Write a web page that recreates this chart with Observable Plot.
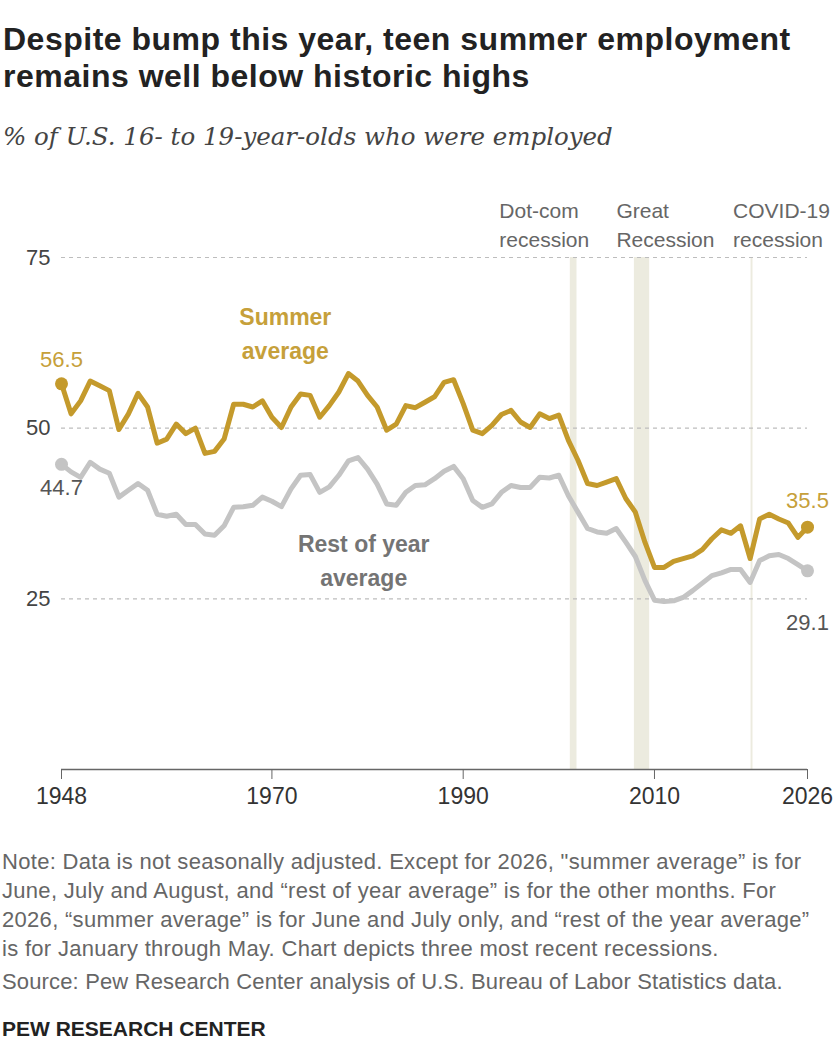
<!DOCTYPE html>
<html><head><meta charset="utf-8">
<script src="https://cdn.jsdelivr.net/npm/d3@7"></script>
<script src="https://cdn.jsdelivr.net/npm/@observablehq/plot@0.6"></script>
<style>
body{margin:0;background:#fff;width:840px;height:1064px;position:relative;overflow:hidden;font-family:"Liberation Sans",Arial,sans-serif;}
.title{position:absolute;left:3px;top:21px;font-weight:bold;font-size:32px;letter-spacing:0.5px;line-height:37px;color:#222;white-space:nowrap;}
.sub{position:absolute;left:3px;top:121px;font-family:"DejaVu Serif",serif;font-style:italic;font-size:24.5px;line-height:32px;color:#444;white-space:nowrap;}
#chart{position:absolute;left:0;top:185px;}
.note{position:absolute;left:2px;top:847px;font-size:22px;letter-spacing:0.3px;line-height:29px;color:#666;white-space:nowrap;}
.source{position:absolute;left:2px;top:967px;font-size:22px;letter-spacing:0.15px;line-height:29px;color:#666;white-space:nowrap;}
.pew{position:absolute;left:2px;top:1015px;font-size:21px;line-height:28px;font-weight:bold;color:#222;white-space:nowrap;}
</style></head>
<body>
<div class="title">Despite bump this year, teen summer employment<br>remains well below historic highs</div>
<div class="sub">% of U.S. 16- to 19-year-olds who were employed</div>
<div id="chart"></div>
<div class="note">Note: Data is not seasonally adjusted. Except for 2026, "summer average” is for<br>June, July and August, and “rest of year average” is for the other months. For<br>2026, “summer average” is for June and July only, and “rest of the year average”<br>is for January through May. Chart depicts three most recent recessions.</div>
<div class="source">Source: Pew Research Center analysis of U.S. Bureau of Labor Statistics data.</div>
<div class="pew">PEW RESEARCH CENTER</div>
<script>
const years = d3.range(1948, 2027);
const summer = [56.5, 52.1, 54.0, 56.9, 56.2, 55.5, 49.8, 52.1, 55.1, 53.1,
  47.8, 48.4, 50.6, 49.2, 50.0, 46.3, 46.6, 48.4, 53.5, 53.5,
  53.1, 54.0, 51.6, 50.1, 53.1, 55.0, 54.8, 51.6, 53.3, 55.3,
  58.0, 56.9, 54.8, 53.1, 49.7, 50.6, 53.3, 53.0, 53.8, 54.6,
  56.7, 57.1, 53.6, 49.7, 49.2, 50.4, 52.0, 52.6, 50.9, 50.1,
  52.1, 51.4, 51.9, 48.2, 45.3, 41.9, 41.6, 42.1, 42.6, 39.7,
  37.7, 33.3, 29.6, 29.6, 30.5, 30.9, 31.3, 32.2, 33.8, 35.1,
  34.6, 35.7, 30.9, 36.7, 37.4, 36.7, 36.1, 34.0, 35.5];
const rest = [44.7, 43.6, 42.8, 45.0, 44.0, 43.4, 39.9, 40.9, 41.9, 40.9,
  37.4, 37.1, 37.4, 35.9, 35.9, 34.5, 34.3, 35.7, 38.4, 38.5,
  38.7, 39.9, 39.3, 38.5, 41.1, 43.1, 43.2, 40.6, 41.4, 43.1,
  45.2, 45.7, 44.0, 41.8, 38.9, 38.7, 40.6, 41.6, 41.7, 42.6,
  43.7, 44.4, 42.6, 39.4, 38.4, 38.9, 40.6, 41.6, 41.3, 41.3,
  42.8, 42.7, 43.1, 40.1, 37.7, 35.3, 34.8, 34.6, 35.3, 33.3,
  31.2, 27.7, 24.8, 24.6, 24.7, 25.2, 26.2, 27.3, 28.4, 28.8,
  29.3, 29.3, 27.4, 30.6, 31.3, 31.5, 30.9, 30.0, 29.1];
const recessionNames = ["Dot-com\nrecession", "Great\nRecession", "COVID-19\nrecession"];
const recessionStart = [2001.2, 2007.9, 2020.1];
const recessionEnd = [2001.9, 2009.5, 2020.3];
const yTicks = [25, 50, 75];
const xTicks = [1948, 1970, 1990, 2010, 2026];
const seriesLabelText = ["Summer\naverage", "Rest of year\naverage"];
const seriesLabelYear = [1971.4, 1979.6];
const seriesLabelValue = [64.2, 30.9];

const data = years.map((year, i) => ({year, summer: summer[i], rest: rest[i]}));
const recessions = recessionNames.map((name, i) => ({name, start: recessionStart[i], end: recessionEnd[i]}));
const first = data.filter(d => d.year === 1948);
const last = data.filter(d => d.year === 2026);
const gold = "#c49a2c", goldText = "#c6a03a", grey = "#c4c4c4";
const recLabelDx = [-71, -18, -18];

const chart = Plot.plot({
  width: 840, height: 640,
  marginLeft: 61, marginRight: 33, marginTop: 72, marginBottom: 56,
  x: {domain: [1948, 2026], axis: null},
  y: {domain: [0, 75], axis: null},
  style: {fontFamily: "Liberation Sans, Arial, sans-serif", fontSize: "22px", background: "transparent", overflow: "visible"},
  marks: [
    Plot.rect(recessions, {x1: "start", x2: "end", y1: 0, y2: 75, fill: "#ecebdf"}),
    Plot.ruleY(yTicks, {stroke: "#bdbdbd", strokeWidth: 1.2, strokeDasharray: "4,4"}),
    Plot.text(yTicks, {x: 1948, y: d => d, text: d => String(d), textAnchor: "end", dx: -11, fontSize: 22, fill: "#444"}),
    ...recessions.map((r, i) => Plot.text([r], {x: "start", y: 75, text: "name", textAnchor: "start", lineAnchor: "middle", dx: recLabelDx[i], dy: -34.5, fontSize: 21, lineHeight: 1.38, fill: "#666"})),
    Plot.ruleY([0], {stroke: "#666", strokeWidth: 1.5}),
    Plot.axisX({ticks: xTicks, tickSize: 10, tickPadding: 8, tickFormat: d => String(d), fontSize: 23, stroke: "#666", fill: "#333"}),
    Plot.line(data, {x: "year", y: "rest", stroke: grey, strokeWidth: 5, strokeLinejoin: "round", strokeLinecap: "round"}),
    Plot.line(data, {x: "year", y: "summer", stroke: gold, strokeWidth: 5, strokeLinejoin: "round", strokeLinecap: "round"}),
    Plot.dot([...first, ...last], {x: "year", y: "rest", r: 6.5, fill: grey}),
    Plot.dot([...first, ...last], {x: "year", y: "summer", r: 6.5, fill: gold}),
    Plot.text(first, {x: "year", y: "summer", text: d => d.summer.toFixed(1), dy: -24, fontSize: 22, fill: goldText}),
    Plot.text(first, {x: "year", y: "rest", text: d => d.rest.toFixed(1), dy: 24, fontSize: 22, fill: "#555"}),
    Plot.text(last, {x: "year", y: "summer", text: d => d.summer.toFixed(1), dy: -26, fontSize: 22, fill: goldText}),
    Plot.text(last, {x: "year", y: "rest", text: d => d.rest.toFixed(1), dy: 52, fontSize: 22, fill: "#555"}),
    Plot.text([0], {x: () => seriesLabelYear[0], y: () => seriesLabelValue[0], text: () => seriesLabelText[0], fontSize: 23, fontWeight: "bold", lineHeight: 1.48, fill: goldText}),
    Plot.text([1], {x: () => seriesLabelYear[1], y: () => seriesLabelValue[1], text: () => seriesLabelText[1], fontSize: 23, fontWeight: "bold", lineHeight: 1.48, fill: "#747474"})
  ]
});
document.getElementById("chart").appendChild(chart);
</script>
</body></html>
